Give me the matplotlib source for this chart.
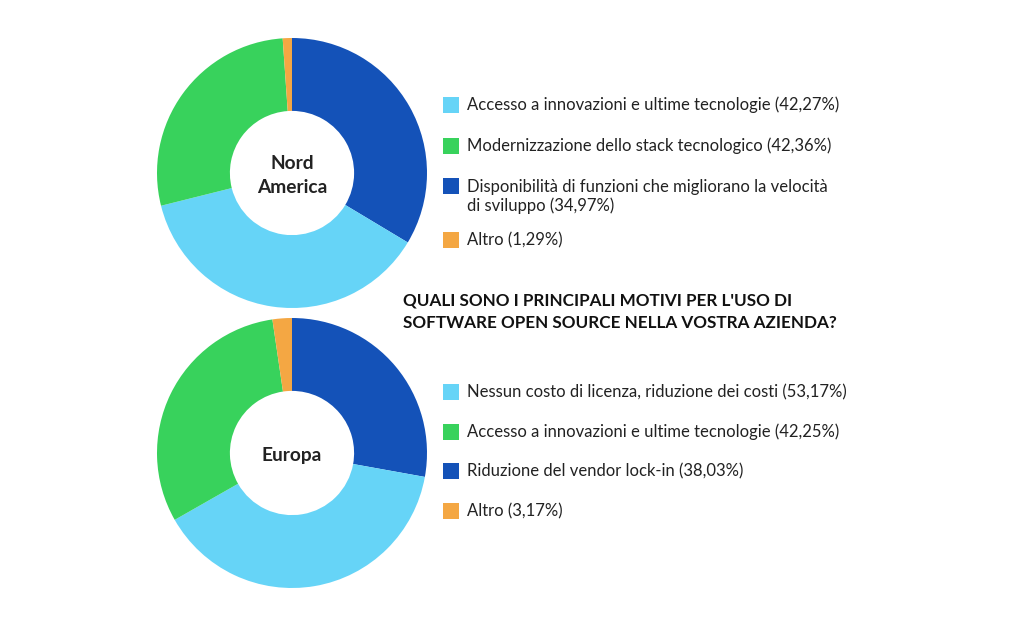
import matplotlib
matplotlib.use("Agg")
from matplotlib import pyplot as plt
from matplotlib.patches import Rectangle

plt.rcParams['font.family'] = ['Lato', 'DejaVu Sans']

colors = ['#66d4f7', '#38d25c', '#1452b8', '#f4a743']

na_labels = ['Accesso a innovazioni e ultime tecnologie (42,27%)',
             'Modernizzazione dello stack tecnologico (42,36%)',
             'Disponibilità di funzioni che migliorano la velocità\ndi sviluppo (34,97%)',
             'Altro (1,29%)']
# wedge shares as drawn in the source donut (they don't follow the legend numbers)
na_slices = [37.5, 27.8, 33.6, 1.1]

eu_labels = ['Nessun costo di licenza, riduzione dei costi (53,17%)',
             'Accesso a innovazioni e ultime tecnologie (42,25%)',
             'Riduzione del vendor lock-in (38,03%)',
             'Altro (3,17%)']
eu_slices = [53.17, 42.25, 38.03, 3.17]

title = "QUALI SONO I PRINCIPALI MOTIVI PER L'USO DI\nSOFTWARE OPEN SOURCE NELLA VOSTRA AZIENDA?"

W, H = 1024, 630
fig = plt.figure(figsize=(W / 100, H / 100), dpi=100)


def donut(cx, cy, r, values, name):
    ax = fig.add_axes([(cx - r) / W, (H - cy - r) / H, 2 * r / W, 2 * r / H])
    # clockwise from 12 o'clock: dark blue, light blue, green, orange
    order = [2, 0, 1, 3]
    ax.pie([values[i] for i in order], colors=[colors[i] for i in order],
           startangle=90, counterclock=False, radius=1,
           wedgeprops=dict(width=0.54, edgecolor='none'))
    ax.set_xlim(-1, 1)
    ax.set_ylim(-1, 1)
    ax.set_aspect('equal')
    ax.axis('off')
    ax.text(0, -0.02, name, ha='center', va='center', fontsize=13.8,
            fontweight='bold', color='#222222', linespacing=1.5)


def legend(x, ys, labels):
    for y, lab, c in zip(ys, labels, colors):
        fig.patches.append(Rectangle((x / W, (H - y - 8) / H), 16 / W, 16 / H,
                                     transform=fig.transFigure, facecolor=c,
                                     edgecolor='none'))
        if '\n' in lab:
            fig.text((x + 24) / W, (H - y + 7) / H, lab, ha='left', va='top',
                     fontsize=12, color='#222222', linespacing=1.15)
        else:
            fig.text((x + 24) / W, (H - y) / H, lab, ha='left', va='center',
                     fontsize=12, color='#222222')


donut(292, 173, 135, na_slices, 'Nord\nAmerica')
donut(292, 453, 135, eu_slices, 'Europa')

legend(443, [105, 146, 186, 240], na_labels)
legend(443, [392, 432, 471, 511], eu_labels)

fig.text(403 / W, (H - 293) / H, title, ha='left', va='top', fontsize=12.35,
         fontweight='bold', color='#111111', linespacing=1.45)

fig.savefig('out.png', dpi=100, facecolor='white')
